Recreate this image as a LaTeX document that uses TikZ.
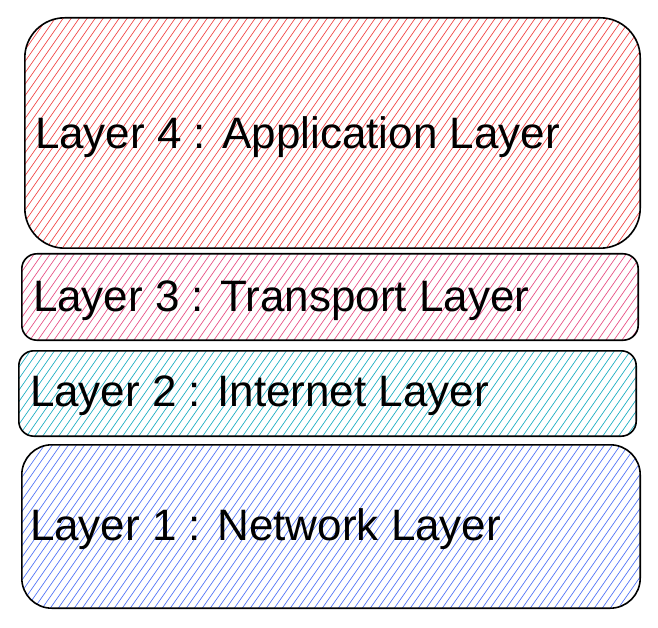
\documentclass[tikz,border=0pt]{standalone}
\usepackage{fontspec}
\setmainfont{Liberation Sans}
\usepackage{tikz}
\usetikzlibrary{positioning}
\definecolor{hatchred}{HTML}{F03E3E}
\definecolor{hatchpink}{HTML}{E64980}
\definecolor{hatchcyan}{HTML}{15AABF}
\definecolor{hatchblue}{HTML}{4C6EF5}

\newcommand{\hatchlayer}[3]{%
\begin{scope}
\clip[rounded corners=#2] (#1.north west) rectangle (#1.south east);
\foreach \x in {-460,-452,...,660}
  \draw[#3,line width=0.65pt] (\x,640) -- ++(448,-640);
\end{scope}
\draw[line width=1.6pt,rounded corners=#2] (#1.north west) rectangle (#1.south east);}

\begin{document}
\begin{tikzpicture}[x=1pt,y=-1pt,
  layerbox/.style={inner sep=0pt},
  layertext/.style={anchor=base west,inner sep=0pt,font=\fontsize{44}{50}\selectfont}]
\useasboundingbox (0,0) rectangle (658,628);
\node[layerbox,minimum width=615pt,minimum height=230pt] (app) at (332.5,133) {};
\node[layerbox,minimum width=616pt,minimum height=86pt] (trans) at (330,297) {};
\node[layerbox,minimum width=617pt,minimum height=85pt] (inet) at (327.5,393.5) {};
\node[layerbox,minimum width=618pt,minimum height=163pt] (net) at (331,526.5) {};
\hatchlayer{app}{40pt}{hatchred}
\hatchlayer{trans}{15pt}{hatchpink}
\hatchlayer{inet}{15pt}{hatchcyan}
\hatchlayer{net}{30pt}{hatchblue}
\node[layertext] (apptext) at ([xshift=10pt,yshift=-16pt]app.west) {Layer 4 : Application Layer};
\node[layertext] (transtext) at ([xshift=11pt,yshift=-14pt]trans.west) {Layer 3 : Transport Layer};
\node[layertext] (inettext) at ([xshift=11pt,yshift=-13pt]inet.west) {Layer 2 : Internet Layer};
\node[layertext] (nettext) at ([xshift=8pt,yshift=-14pt]net.west) {Layer 1 : Network Layer};
\end{tikzpicture}
\end{document}
